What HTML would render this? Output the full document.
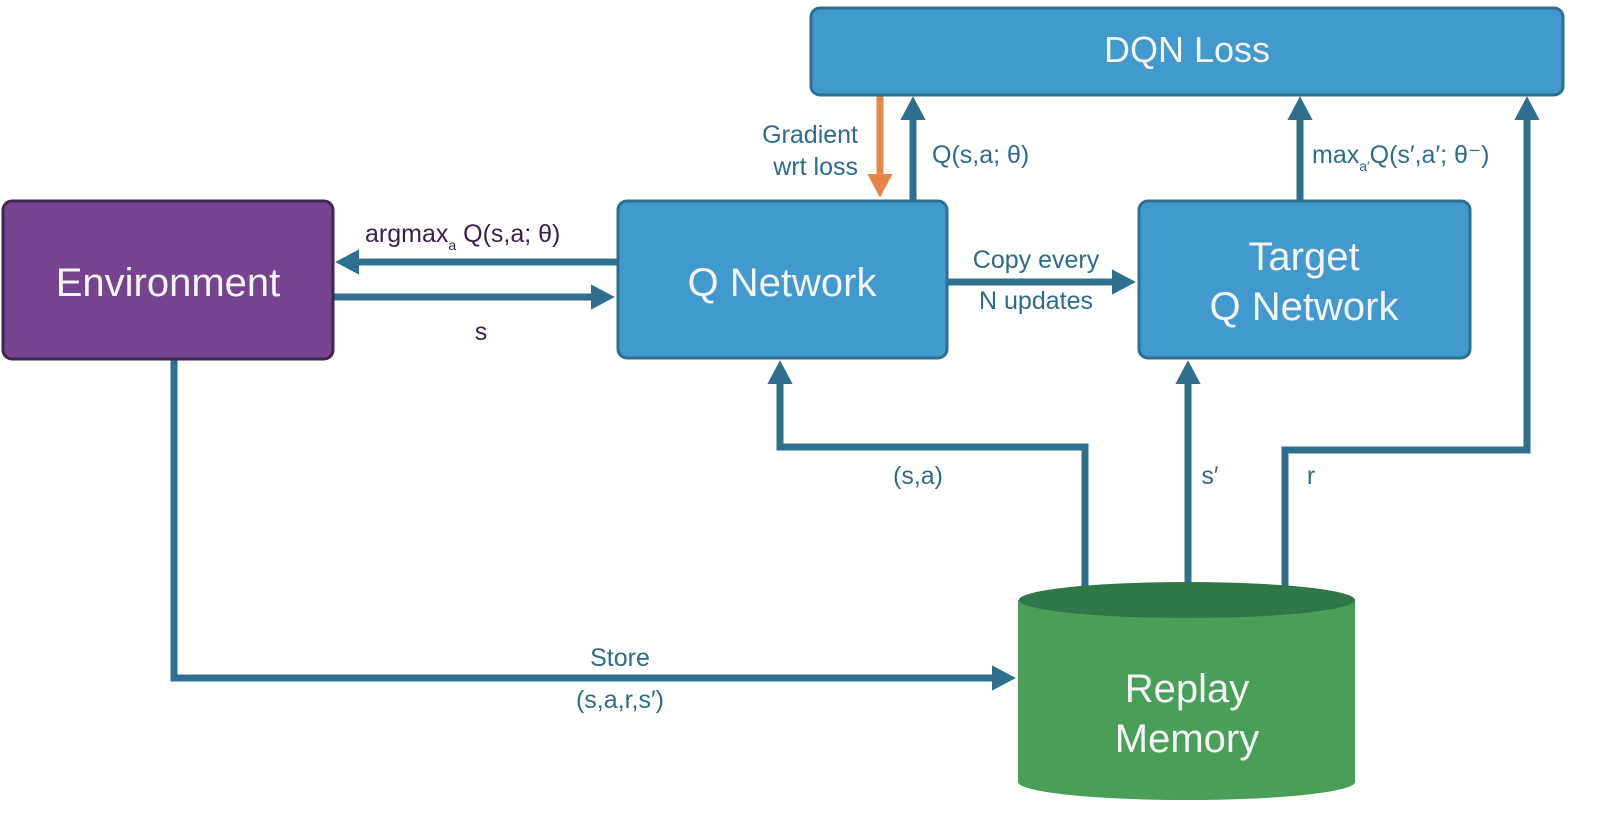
<!DOCTYPE html>
<html><head><meta charset="utf-8"><style>
body{margin:0;background:#fff}
svg{display:block;font-family:"Liberation Sans",sans-serif}
</style></head><body>
<svg width="1614" height="828" viewBox="0 0 1614 828" xmlns="http://www.w3.org/2000/svg">
<defs>
<marker id="a" markerWidth="4" markerHeight="4" refX="2" refY="2" orient="auto" markerUnits="strokeWidth"><path d="M0,0.2 L3.4,2 L0,3.8 z" fill="#2e6f8e"/></marker>
<marker id="o" markerWidth="4" markerHeight="4" refX="2" refY="2" orient="auto" markerUnits="strokeWidth"><path d="M0,0.2 L3.4,2 L0,3.8 z" fill="#e8864a"/></marker>
</defs>
<g stroke="#2e6f8e" stroke-width="7" fill="none">
<path d="M913 200 V106" marker-end="url(#a)"/>
<path d="M1300 200 V106" marker-end="url(#a)"/>
<path d="M1285 590 V450 H1527 V106" marker-end="url(#a)"/>
<path d="M1188 590 V370" marker-end="url(#a)"/>
<path d="M1085 590 V447 H780 V370" marker-end="url(#a)"/>
<path d="M617 262 H345" marker-end="url(#a)"/>
<path d="M333 297 H605" marker-end="url(#a)"/>
<path d="M947 282 H1126" marker-end="url(#a)"/>
<path d="M174 360 V678 H1006" marker-end="url(#a)"/>
</g>
<path d="M880 95 V188" stroke="#e8864a" stroke-width="7" marker-end="url(#o)"/>
<rect x="811" y="8" width="752" height="87" rx="9" fill="#4199cd" stroke="#2d6f90" stroke-width="3"/>
<rect x="3" y="201" width="330" height="158" rx="9" fill="#76448f" stroke="#3f2653" stroke-width="3"/>
<rect x="618" y="201" width="329" height="157" rx="9" fill="#4199cd" stroke="#2d6f90" stroke-width="3"/>
<rect x="1139" y="201" width="331" height="157" rx="9" fill="#4199cd" stroke="#2d6f90" stroke-width="3"/>
<path d="M1018 600 V782 A168 18 0 0 0 1355 782 V600 Z" fill="#4a9f58"/>
<ellipse cx="1187" cy="600" rx="168" ry="18" fill="#2f7748"/>
<g fill="#f4f4f4" text-anchor="middle" font-size="40">
<text x="1187" y="62" font-size="36">DQN Loss</text>
<text x="168" y="296">Environment</text>
<text x="782" y="296">Q Network</text>
<text x="1304" y="270">Target</text>
<text x="1304" y="320">Q Network</text>
<text x="1187" y="702">Replay</text>
<text x="1187" y="752">Memory</text>
</g>
<g fill="#2e6b8a" font-size="25">
<text x="858" y="143" text-anchor="end">Gradient</text>
<text x="858" y="175" text-anchor="end">wrt loss</text>
<text x="932" y="163">Q(s,a; θ)</text>
<text x="1312" y="163">max<tspan font-size="14" dy="8">a′</tspan><tspan dy="-8">Q(s′,a′; θ⁻)</tspan></text>
<text x="1036" y="268" text-anchor="middle">Copy every</text>
<text x="1036" y="309" text-anchor="middle">N updates</text>
<text x="918" y="484" text-anchor="middle">(s,a)</text>
<text x="1210" y="484" text-anchor="middle">s′</text>
<text x="1311" y="484" text-anchor="middle">r</text>
<text x="620" y="666" text-anchor="middle">Store</text>
<text x="620" y="708" text-anchor="middle">(s,a,r,s′)</text>
</g>
<g fill="#3a1f4a" font-size="25">
<text x="365" y="242">argmax<tspan font-size="14" dy="8">a</tspan><tspan dy="-8"> Q(s,a; θ)</tspan></text>
<text x="481" y="340" text-anchor="middle">s</text>
</g>
</svg>
</body></html>
